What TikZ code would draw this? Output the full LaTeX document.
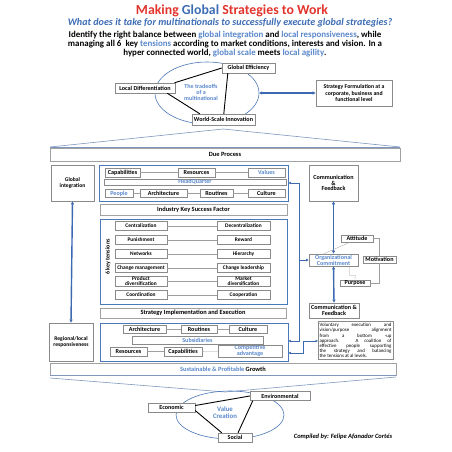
\documentclass[tikz,border=0pt]{standalone}
\usepackage{fontspec}
\setmainfont{Carlito}
\usetikzlibrary{arrows.meta,shapes.geometric,calc}
\definecolor{ttlred}{HTML}{E2342C}
\definecolor{tblue}{HTML}{3D6DB5}
\definecolor{lblue}{HTML}{5A88CC}
\definecolor{blkblue}{HTML}{4A78B8}
\definecolor{arrblue}{HTML}{3C69B0}
\definecolor{boxgray}{HTML}{8A8A8A}
\definecolor{trapln}{HTML}{7F97BF}
\begin{document}
\begin{tikzpicture}[x=1pt,y=-1pt,
  box/.style={draw=boxgray, fill=white, line width=0.4pt, inner sep=0.2pt, align=center,
    font=\fontsize{6.1}{5.8}\selectfont\bfseries, text=black},
  tbox/.style={box, font=\fontsize{5.4}{5}\selectfont\bfseries},
  bbox/.style={box, text=lblue},
  blk/.style={draw=blkblue, line width=0.7pt},
  bar/.style={draw=boxgray!80, fill=white, line width=0.4pt, inner sep=0pt,
    font=\fontsize{6.4}{7}\selectfont\bfseries},
  link/.style={draw=gray!75, line width=0.3pt},
  dblarrow/.style={draw=arrblue, line width=1.4pt, {Latex[length=3.2pt,width=3.6pt]}-{Latex[length=3.2pt,width=3.6pt]}},
  conn/.style={draw=arrblue, line width=0.8pt},
  conntip/.style={-{Latex[length=2.6pt,width=2.8pt]}},
  trap/.style={draw=trapln, line width=0.6pt},
  ell/.style={draw=blkblue, line width=0.6pt}
]
\useasboundingbox[fill=white] (0,0) rectangle (452,452);

% ---- header
\node[font=\fontsize{13.8}{15}\selectfont\bfseries, text=ttlred, inner sep=0pt] (title) at (232,10.8)
  {Making \textcolor{tblue}{Global} Strategies to Work};
\node[font=\fontsize{10.1}{11}\selectfont\bfseries\itshape, text=tblue, inner sep=0pt] (subtitle) at (230,23.2)
  {What does it take for multinationals to successfully execute global strategies?};
\node[font=\fontsize{8.9}{8.8}\selectfont\bfseries, align=center] (para) at (225,44)
  {Identify the right balance between \textcolor{lblue}{global integration} and \textcolor{lblue}{local responsiveness}, while\\
   managing all 6\ \ key \textcolor{lblue}{tensions} according to market conditions, interests and vision. In a\\
   hyper connected world, \textcolor{lblue}{global scale} meets \textcolor{lblue}{local agility}.};

% ---- tradeoffs triangle
\draw[ell] (207,93) ellipse [x radius=52, y radius=31];
\coordinate (ellR) at (259,93);
\node[box, minimum width=53, minimum height=10] (ge) at (248.5,68) {Global Efficiency};
\node[box, minimum width=60, minimum height=10] (ld) at (145,88) {Local Differentiation};
\node[box, minimum width=63, minimum height=11] (wsi) at (223.5,119.5) {World-Scale Innovation};
\draw[line width=0.9pt] (ld.10) -- (ge.west);
\draw[line width=0.9pt] ([xshift=-8pt]ld.south east) -- ([xshift=8pt]wsi.north west);
\draw[line width=0.9pt] ([xshift=6pt]ge.south west) -- ([xshift=32pt]wsi.north west);
\node[font=\fontsize{6}{5.8}\selectfont\bfseries, text=lblue, align=center] (trade) at (201,92.5)
  {The tradeoffs\\of a\\multinational};
\node[box, minimum width=76, minimum height=26, font=\fontsize{5.8}{6.6}\selectfont\bfseries] (sf) at (354,93)
  {Strategy Formulation at a\\corporate, business and\\functional level};
\draw[dblarrow] (ellR) -- (sf.west);

% ---- due process trapezoid
\coordinate (apex) at (223,129);
\draw[trap] (50,147) -- (apex) -- (400,147);
\node[bar, minimum width=350, minimum height=13] (due) at (225,154.5) {Due Process};
\draw[trapln, line width=0.9pt] (due.north west) -- (due.north east);

% ---- global integration / regional
\node[box, minimum width=43, minimum height=36, font=\fontsize{5.6}{6}\selectfont\bfseries] (gi) at (72.5,183) {Global\\integration};
\node[box, minimum width=44, minimum height=38, font=\fontsize{5.6}{6}\selectfont\bfseries] (rl) at (71,342) {Regional/local\\responsiveness};
\draw[dblarrow] (gi.south) -- (rl.north);

% ---- HQ block
\node[blk, minimum width=189, minimum height=36] (hq) at (193.5,183) {};
\node[box, minimum width=35, minimum height=9] (cap1) at (122.5,172.5) {Capabilities};
\node[box, minimum width=37, minimum height=9] (res1) at (196.5,172.5) {Resources};
\node[bbox, minimum width=37, minimum height=9] (val) at (266.5,172.5) {Values};
\node[bbox, minimum width=182, minimum height=6] (hqbar) at (195,182) {HeadQuarter};
\node[bbox, minimum width=28, minimum height=8] (peo) at (119,193.5) {People};
\node[box, minimum width=47, minimum height=8] (arch1) at (163.5,193.5) {Architecture};
\node[box, minimum width=33, minimum height=8] (rout1) at (216.5,193.5) {Routines};
\node[box, minimum width=37, minimum height=8] (cult1) at (266.5,193.5) {Culture};
\draw[link] (cap1) -- (res1); \draw[link] (res1) -- (val);
\draw[link] (peo) -- (arch1); \draw[link] (arch1) -- (rout1); \draw[link] (rout1) -- (cult1);

% ---- industry key success factor
\node[bar, minimum width=187, minimum height=11] (iksf) at (193.5,209.5) {Industry Key Success Factor};

% ---- tensions block
\node[blk, minimum width=187, minimum height=85] (tens) at (193.5,261.5) {};
\node[font=\fontsize{6}{6}\selectfont\bfseries, rotate=90] (keyt) at (108,257) {6 key tensions};
\node[tbox, minimum width=52, minimum height=9] (l1) at (141,226) {Centralization};
\node[tbox, minimum width=53, minimum height=9] (r1) at (243.5,226) {Decentralization};
\node[tbox, minimum width=52, minimum height=9] (l2) at (141,240) {Punishment};
\node[tbox, minimum width=53, minimum height=9] (r2) at (243.5,240) {Reward};
\node[tbox, minimum width=52, minimum height=9] (l3) at (141,254) {Networks};
\node[tbox, minimum width=53, minimum height=9] (r3) at (243.5,254) {Hierarchy};
\node[tbox, minimum width=52, minimum height=9] (l4) at (141,268) {Change management};
\node[tbox, minimum width=53, minimum height=9] (r4) at (243.5,268) {Change leadership};
\node[tbox, minimum width=52, minimum height=10] (l5) at (141,281.5) {Product\\diversification};
\node[tbox, minimum width=53, minimum height=10] (r5) at (243.5,281.5) {Market\\diversification};
\node[tbox, minimum width=52, minimum height=9] (l6) at (141,295) {Coordination};
\node[tbox, minimum width=53, minimum height=9] (r6) at (243.5,295) {Cooperation};
\foreach \i in {1,...,6} {\draw[link] (l\i) -- (r\i);}

% ---- strategy implementation
\node[bar, minimum width=186, minimum height=10] (sie) at (193,313) {Strategy Implementation and Execution};

% ---- subsidiaries block
\node[blk, minimum width=188, minimum height=38] (sub) at (194,342) {};
\node[box, minimum width=43, minimum height=8] (arch2) at (144.5,329.5) {Architecture};
\node[box, minimum width=36, minimum height=8] (rout2) at (199,329.5) {Routines};
\node[box, minimum width=38, minimum height=8] (cult2) at (248,329.5) {Culture};
\node[bbox, minimum width=131, minimum height=8] (subbar) at (197.5,340) {Subsidiaries};
\node[box, minimum width=37, minimum height=9] (res2) at (128.5,351.5) {Resources};
\node[box, minimum width=38, minimum height=9] (cap2) at (183,351.5) {Capabilities};
\node[bbox, minimum width=64, minimum height=12] (comp) at (250,351) {Competitive\\advantage};
\draw[link] (arch2) -- (rout2); \draw[link] (rout2) -- (cult2);
\draw[link] (res2) -- (cap2); \draw[link] (cap2) -- (comp);

% ---- sustainable growth
\node[bar, minimum width=346, minimum height=12] (spg) at (223,369)
  {\textcolor{lblue}{Sustainable \& Profitable} Growth};
\draw[trapln, line width=0.9pt] (spg.south west) -- (spg.south east);

% ---- right column
\node[box, minimum width=49, minimum height=36] (cf1) at (333.5,183) {Communication\\\&\\Feedback};
\node[bbox, minimum width=49, minimum height=12] (oc) at (333.5,260) {Organizational\\Commitment};
\node[box, minimum width=32, minimum height=7] (att) at (357,238.5) {Attitude};
\node[box, minimum width=33, minimum height=7] (mot) at (379.5,259.5) {Motivation};
\node[box, minimum width=30, minimum height=6.5] (pur) at (355,283) {Purpose};
\node[box, minimum width=50, minimum height=15] (cf2) at (334,310.5) {Communication \&\\Feedback};
\node[draw=boxgray, fill=white, line width=0.4pt, inner xsep=1.2pt, inner ysep=0.6pt, text width=72pt, align=justify,
  font=\fontsize{4.9}{5.1}\selectfont, minimum height=38] (txt) at (355.5,340.5)
  {Voluntary execution and\linebreak vision/purpose alignment\linebreak from a bottom -up\linebreak approach. A coalition of\linebreak effective people supporting\linebreak the strategy and balancing\linebreak the tensions at al levels.};
\draw[dblarrow] (cf1.south) -- (oc.north);
\draw[dblarrow] (oc.south) -- (cf2.north);
\draw[link] ([xshift=-7pt]att.south) -- ([xshift=15pt]oc.north west);
\draw[link] (att.east) -- (att.east -| mot.north) -- (mot.north);
\draw[link] (mot.south) -- (mot.south |- pur.east) -- (pur.east);
\draw[link] ([xshift=-9pt]oc.south east) -- ++(0,9) -- ++(6,0) -- (pur.north);

% ---- blue connectors
\coordinate (j1) at (299,183);
\coordinate (j2) at (299,341);
\coordinate (j3) at (299,260);
\draw[conn, {Latex[length=2.6pt,width=2.8pt]}-{Latex[length=2.6pt,width=2.8pt]}] (hq.east) -- (j1) -- (j2) -- (j2 -| sub.east);
\draw[conn, conntip] (j3) -- (oc.west);
\coordinate (k1) at (303,341);
\coordinate (k2) at (303,353);
\draw[conn, {Latex[length=2.6pt,width=2.8pt]}-{Latex[length=2.6pt,width=2.8pt]}] (k1 -| txt.west) -- (k1) -- (k2) -- (k2 -| sub.east);

% ---- value creation
\draw[trap] (50,378) -- (225,392) -- (396,377);
\draw[ell] (230,415) ellipse [x radius=54, y radius=24];
\node[box, minimum width=47, minimum height=9] (eco) at (171.5,407.5) {Economic};
\node[box, minimum width=60, minimum height=9] (env) at (280,396) {Environmental};
\node[box, minimum width=34, minimum height=9] (soc) at (235,437.5) {Social};
\draw[line width=0.9pt] ([yshift=2pt]eco.east) -- (env.west);
\draw[line width=0.9pt] ([yshift=-3pt]eco.east) -- ([xshift=4pt]soc.north west);
\draw[line width=0.9pt] ([xshift=3pt]env.south west) -- ([xshift=3pt]soc.north);
\node[font=\fontsize{6.8}{7}\selectfont\bfseries, text=lblue, align=center] (vc) at (225,412.5) {Value\\Creation};
\node[font=\fontsize{6.5}{7}\selectfont\bfseries\itshape] (comp2) at (343,437) {Compiled by: Felipe Afanador Cortés};
\end{tikzpicture}
\end{document}
